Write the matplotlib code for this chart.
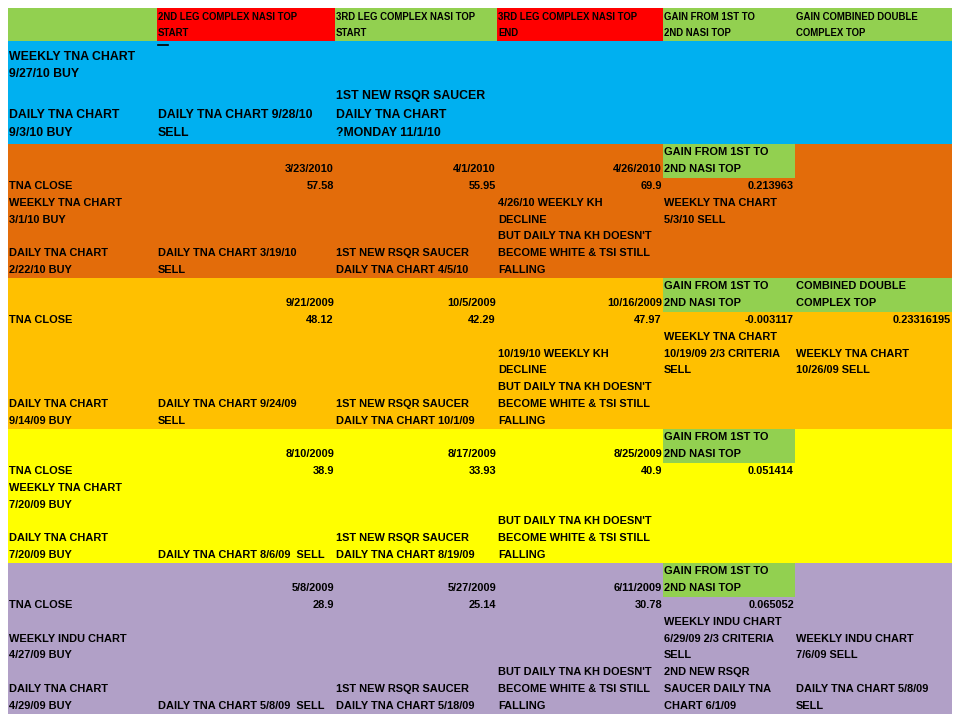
import matplotlib
matplotlib.use("Agg")
import matplotlib.pyplot as plt
from matplotlib.patches import Rectangle

plt.rcParams['font.family'] = ['Liberation Sans', 'DejaVu Sans']

col_edges = [8, 157, 335, 497, 663, 795, 952]
PITCH = 16.8

headers = ["", "2ND LEG COMPLEX NASI TOP\nSTART", "3RD LEG COMPLEX NASI TOP\nSTART",
           "3RD LEG COMPLEX NASI TOP\nEND", "GAIN FROM 1ST TO\n2ND NASI TOP",
           "GAIN COMBINED DOUBLE\nCOMPLEX TOP"]
header_colors = ["#92d050", "#ff0000", "#92d050", "#ff0000", "#92d050", "#92d050"]

# blue block (explicit line centers)
blue_texts = [
    (57, 0, "WEEKLY TNA CHART"), (74, 0, "9/27/10 BUY"),
    (96, 2, "1ST NEW RSQR SAUCER"),
    (115, 0, "DAILY TNA CHART"), (133, 0, "9/3/10 BUY"),
    (115, 1, "DAILY TNA CHART 9/28/10"), (133, 1, "SELL"),
    (115, 2, "DAILY TNA CHART"), (133, 2, "?MONDAY 11/1/10"),
]

orange_texts = [
    (1, 1, "3/23/2010", 'r'), (1, 2, "4/1/2010", 'r'), (1, 3, "4/26/2010", 'r'),
    (2, 0, "TNA CLOSE", 'l'), (2, 1, "57.58", 'r'), (2, 2, "55.95", 'r'), (2, 3, "69.9", 'r'),
    (0, 4, "GAIN FROM 1ST TO", 'l'), (1, 4, "2ND NASI TOP", 'l'), (2, 4, "0.213963", 'r'),
    (3, 0, "WEEKLY TNA CHART", 'l'), (4, 0, "3/1/10 BUY", 'l'),
    (3, 3, "4/26/10 WEEKLY KH", 'l'), (4, 3, "DECLINE", 'l'),
    (5, 3, "BUT DAILY TNA KH DOESN'T", 'l'), (6, 3, "BECOME WHITE & TSI STILL", 'l'), (7, 3, "FALLING", 'l'),
    (3, 4, "WEEKLY TNA CHART", 'l'), (4, 4, "5/3/10 SELL", 'l'),
    (6, 0, "DAILY TNA CHART", 'l'), (7, 0, "2/22/10 BUY", 'l'),
    (6, 1, "DAILY TNA CHART 3/19/10", 'l'), (7, 1, "SELL", 'l'),
    (6, 2, "1ST NEW RSQR SAUCER", 'l'), (7, 2, "DAILY TNA CHART 4/5/10", 'l'),
]
amber_texts = [
    (1, 1, "9/21/2009", 'r'), (1, 2, "10/5/2009", 'r'), (1, 3, "10/16/2009", 'r'),
    (2, 0, "TNA CLOSE", 'l'), (2, 1, "48.12", 'r'), (2, 2, "42.29", 'r'), (2, 3, "47.97", 'r'),
    (0, 4, "GAIN FROM 1ST TO", 'l'), (1, 4, "2ND NASI TOP", 'l'), (2, 4, "-0.003117", 'r'),
    (0, 5, "COMBINED DOUBLE", 'l'), (1, 5, "COMPLEX TOP", 'l'), (2, 5, "0.23316195", 'r'),
    (3, 4, "WEEKLY TNA CHART", 'l'), (4, 4, "10/19/09 2/3 CRITERIA", 'l'), (5, 4, "SELL", 'l'),
    (4, 5, "WEEKLY TNA CHART", 'l'), (5, 5, "10/26/09 SELL", 'l'),
    (4, 3, "10/19/10 WEEKLY KH", 'l'), (5, 3, "DECLINE", 'l'),
    (6, 3, "BUT DAILY TNA KH DOESN'T", 'l'), (7, 3, "BECOME WHITE & TSI STILL", 'l'), (8, 3, "FALLING", 'l'),
    (7, 0, "DAILY TNA CHART", 'l'), (8, 0, "9/14/09 BUY", 'l'),
    (7, 1, "DAILY TNA CHART 9/24/09", 'l'), (8, 1, "SELL", 'l'),
    (7, 2, "1ST NEW RSQR SAUCER", 'l'), (8, 2, "DAILY TNA CHART 10/1/09", 'l'),
]
yellow_texts = [
    (1, 1, "8/10/2009", 'r'), (1, 2, "8/17/2009", 'r'), (1, 3, "8/25/2009", 'r'),
    (2, 0, "TNA CLOSE", 'l'), (2, 1, "38.9", 'r'), (2, 2, "33.93", 'r'), (2, 3, "40.9", 'r'),
    (0, 4, "GAIN FROM 1ST TO", 'l'), (1, 4, "2ND NASI TOP", 'l'), (2, 4, "0.051414", 'r'),
    (3, 0, "WEEKLY TNA CHART", 'l'), (4, 0, "7/20/09 BUY", 'l'),
    (5, 3, "BUT DAILY TNA KH DOESN'T", 'l'), (6, 3, "BECOME WHITE & TSI STILL", 'l'), (7, 3, "FALLING", 'l'),
    (6, 0, "DAILY TNA CHART", 'l'), (7, 0, "7/20/09 BUY", 'l'),
    (7, 1, "DAILY TNA CHART 8/6/09  SELL", 'l'),
    (6, 2, "1ST NEW RSQR SAUCER", 'l'), (7, 2, "DAILY TNA CHART 8/19/09", 'l'),
]
purple_texts = [
    (1, 1, "5/8/2009", 'r'), (1, 2, "5/27/2009", 'r'), (1, 3, "6/11/2009", 'r'),
    (2, 0, "TNA CLOSE", 'l'), (2, 1, "28.9", 'r'), (2, 2, "25.14", 'r'), (2, 3, "30.78", 'r'),
    (0, 4, "GAIN FROM 1ST TO", 'l'), (1, 4, "2ND NASI TOP", 'l'), (2, 4, "0.065052", 'r'),
    (3, 4, "WEEKLY INDU CHART", 'l'), (4, 4, "6/29/09 2/3 CRITERIA", 'l'), (5, 4, "SELL", 'l'),
    (6, 4, "2ND NEW RSQR", 'l'), (7, 4, "SAUCER DAILY TNA", 'l'), (8, 4, "CHART 6/1/09", 'l'),
    (4, 5, "WEEKLY INDU CHART", 'l'), (5, 5, "7/6/09 SELL", 'l'),
    (7, 5, "DAILY TNA CHART 5/8/09", 'l'), (8, 5, "SELL", 'l'),
    (4, 0, "WEEKLY INDU CHART", 'l'), (5, 0, "4/27/09 BUY", 'l'),
    (6, 3, "BUT DAILY TNA KH DOESN'T", 'l'), (7, 3, "BECOME WHITE & TSI STILL", 'l'), (8, 3, "FALLING", 'l'),
    (7, 0, "DAILY TNA CHART", 'l'), (8, 0, "4/29/09 BUY", 'l'),
    (8, 1, "DAILY TNA CHART 5/8/09  SELL", 'l'),
    (7, 2, "1ST NEW RSQR SAUCER", 'l'), (8, 2, "DAILY TNA CHART 5/18/09", 'l'),
]

blocks = [
    ("#e36c0a", 144, 8, orange_texts, [(0, 2, 4)]),
    ("#ffc000", 278, 9, amber_texts, [(0, 2, 4), (0, 2, 5)]),
    ("#ffff00", 429, 8, yellow_texts, [(0, 2, 4)]),
    ("#b1a0c7", 563, 9, purple_texts, [(0, 2, 4)]),
]

fig = plt.figure(figsize=(9.6, 7.2), dpi=100)
ax = fig.add_axes([0, 0, 1, 1])
ax.set_xlim(0, 960)
ax.set_ylim(720, 0)
ax.axis('off')

FS = 7.9
kw = dict(fontsize=FS, fontweight='bold', va='center', color='black')

def put(y, col, text, align):
    if align == 'r':
        ax.text(col_edges[col + 1] - 1, y, text, ha='right', **kw)
    else:
        ax.text(col_edges[col] + 1, y, text, ha='left', **kw)

for c in range(6):
    ax.add_patch(Rectangle((col_edges[c], 8), col_edges[c + 1] - col_edges[c], 33,
                           color=header_colors[c], lw=0))
    for i, line in enumerate(headers[c].split("\n")):
        if line:
            ax.text(col_edges[c] + 1, 16.5 + 16.5 * i, line, ha='left',
                    fontsize=6.9, fontweight='bold', va='center')

ax.add_patch(Rectangle((8, 41), 944, 103, color="#00b0f0", lw=0))
ax.plot([158, 168], [45, 45], color='black', lw=1.2)
for y, c, t in blue_texts:
    ax.text(col_edges[c] + 1, y, t, ha='left', fontsize=8.8, fontweight='bold', va='center')

for color, top, n, texts, greens in blocks:
    ax.add_patch(Rectangle((8, top), 944, n * PITCH, color=color, lw=0))
    for l0, nl, c in greens:
        ax.add_patch(Rectangle((col_edges[c], top + l0 * PITCH), col_edges[c + 1] - col_edges[c],
                               nl * PITCH, color="#92d050", lw=0))
    for l, c, t, a in texts:
        put(top + (l + 0.5) * PITCH, c, t, a)

fig.savefig("out.png", dpi=100)
